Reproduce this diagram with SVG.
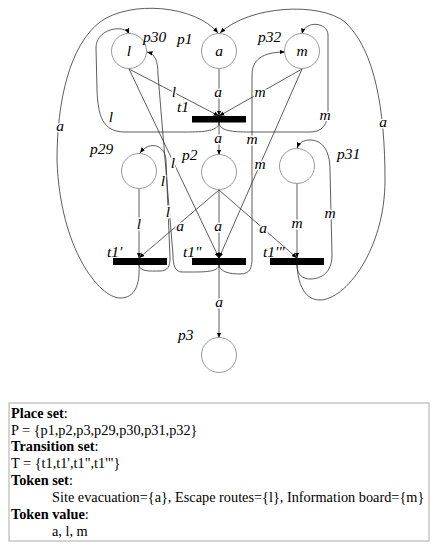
<svg xmlns="http://www.w3.org/2000/svg" width="438" height="550" viewBox="0 0 438 550">
<style>
.pl{fill:#fff;stroke:#999;stroke-width:1}
.tr{fill:#000}
.lb{font-family:"Liberation Serif",serif;font-style:italic;font-size:15.5px;fill:#000}
.tk{font-family:"Liberation Serif",serif;font-style:italic;font-size:15.5px;fill:#000;text-anchor:middle}
.al{font-family:"Liberation Serif",serif;font-style:italic;font-size:15.5px;fill:#000;text-anchor:middle;stroke:#fff;stroke-width:3px;paint-order:stroke;stroke-linejoin:round}
.ar{fill:none;stroke:#333;stroke-width:0.8;marker-end:url(#ah)}
.bx{font-family:"Liberation Serif",serif;font-size:14.3px;fill:#000}
.b{font-weight:bold}
</style>
<defs>
<marker id="ah" markerUnits="userSpaceOnUse" markerWidth="6" markerHeight="6" refX="5.5" refY="3" orient="auto">
<path d="M0,0.8 L5.5,3 L0,5.2 z" fill="#000"/>
</marker>
</defs>
<rect width="438" height="550" fill="#fff"/>
<g id="connectors">
<path class="ar" d="M219,69 L219,116"/>
<path class="ar" d="M129,69 L219,116"/>
<path class="ar" d="M302,69 L219,116"/>
<path class="ar" d="M219,122 C219,131 205,132 185,132 L125,132 C102,132 98,115 97,90 L96,48 C96,28 125,24 129,34"/>
<path class="ar" d="M219,122 C219,131 232,132 250,132 L310,132 C322,132 328,125 328,110 L328,35 C328,22 305,20 302,34"/>
<path class="ar" d="M139,265 C140,285 135,298 120,298 C100,298 60,250 57,160 C57,100 70,45 100,22 C130,0 195,5 218,33"/>
<path class="ar" d="M297,265 C298,285 305,300 320,300 C345,300 385,250 385,180 C385,110 375,50 345,22 C320,2 250,5 220,33"/>
<path class="ar" d="M219,122 L219,155"/>
<path class="ar" d="M129,69 L219,258"/>
<path class="ar" d="M302,69 L219,258"/>
<path class="ar" d="M219,190 L219,258"/>
<path class="ar" d="M219,190 L139,258"/>
<path class="ar" d="M219,190 L297,258"/>
<path class="ar" d="M139,189 L139,258"/>
<path class="ar" d="M297,184 L297,258"/>
<path class="ar" d="M139,265 C140,272 150,271 160,271 C168,271 170,266 170,258 L166,160 C165,145 150,140 140,153"/>
<path class="ar" d="M219,265 C218,272 205,272 190,272 L182,272 C175,272 173,265 173,255 L158,75 C158,60 155,54 147,52"/>
<path class="ar" d="M219,265 C220,272 230,274 240,274 C250,274 252,268 252,258 L252,75 C252,60 262,52 285,52"/>
<path class="ar" d="M297,265 C297,275 303,279 310,279 C322,279 332,272 332,255 L330,170 C330,150 322,140 310,140 C303,140 299,143 297,148"/>
<path class="ar" d="M219,265 L219,338"/>
<text class="al" x="111" y="122">l</text>
<text class="al" x="174" y="97">l</text>
<text class="al" x="218" y="97">a</text>
<text class="al" x="260" y="97">m</text>
<text class="al" x="325" y="120">m</text>
<text class="al" x="60" y="131">a</text>
<text class="al" x="383" y="127">a</text>
<text class="al" x="218" y="143">a</text>
<text class="al" x="252" y="144">m</text>
<text class="al" x="260" y="169">m</text>
<text class="al" x="173" y="168">l</text>
<text class="al" x="163" y="186">l</text>
<text class="al" x="168" y="217">l</text>
<text class="al" x="139" y="229">l</text>
<text class="al" x="180" y="231">a</text>
<text class="al" x="218" y="231">a</text>
<text class="al" x="263" y="233">a</text>
<text class="al" x="297" y="228">m</text>
<text class="al" x="330" y="218">m</text>
<text class="al" x="219" y="307">a</text>
</g>
<g id="p30"><circle class="pl" cx="129" cy="51" r="17.5"/><text class="tk" x="129" y="56">l</text><text class="lb" x="143" y="42">p30</text></g>
<g id="p1"><circle class="pl" cx="219" cy="51" r="17.5"/><text class="tk" x="219" y="56">a</text><text class="lb" x="177" y="44">p1</text></g>
<g id="p32"><circle class="pl" cx="302" cy="51" r="17.5"/><text class="tk" x="302" y="56">m</text><text class="lb" x="258" y="42">p32</text></g>
<g id="p29"><circle class="pl" cx="139" cy="171" r="17.5"/><text class="lb" x="90" y="154">p29</text></g>
<g id="p2"><circle class="pl" cx="219" cy="172" r="17.5"/><text class="lb" x="182" y="160">p2</text></g>
<g id="p31"><circle class="pl" cx="297" cy="166" r="17.5"/><text class="lb" x="337" y="159">p31</text></g>
<g id="p3"><circle class="pl" cx="219" cy="355" r="17.5"/><text class="lb" x="178" y="340">p3</text></g>
<g id="t1"><rect class="tr" x="192" y="116" width="54" height="6.5"/><text class="lb" x="177" y="112">t1</text></g>
<g id="t1p"><rect class="tr" x="113" y="258" width="54" height="7"/><text class="lb" x="107" y="257">t1'</text></g>
<g id="t1pp"><rect class="tr" x="192" y="258" width="54" height="7"/><text class="lb" x="183" y="257">t1"</text></g>
<g id="t1ppp"><rect class="tr" x="270" y="258" width="54" height="7"/><text class="lb" x="263" y="257">t1'"</text></g>
<g id="legend">
<rect x="9" y="403" width="420" height="138" fill="#fff" stroke="#aaa" stroke-width="1"/>
<text class="bx" x="11" y="418"><tspan class="b">Place set</tspan>:</text>
<text class="bx" x="11" y="435">P = {p1,p2,p3,p29,p30,p31,p32}</text>
<text class="bx" x="11" y="451"><tspan class="b">Transition set</tspan>:</text>
<text class="bx" x="11" y="468">T = {t1,t1',t1",t1'"}</text>
<text class="bx" x="11" y="485"><tspan class="b">Token set</tspan>:</text>
<text class="bx" x="52" y="502">Site evacuation={a}, Escape routes={l}, Information board={m}</text>
<text class="bx" x="11" y="519"><tspan class="b">Token value</tspan>:</text>
<text class="bx" x="52" y="536">a, l, m</text>
</g>
</svg>
